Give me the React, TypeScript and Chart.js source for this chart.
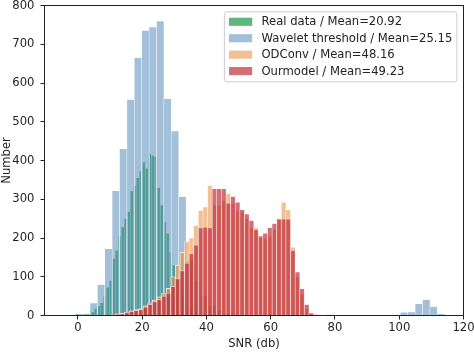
import React, { useEffect, useRef } from "react";
import { Chart, registerables } from "chart.js";

Chart.register(...registerables);

// ---- tick labels ----
const X_TICKS = [0, 20, 40, 60, 80, 100, 120];
const Y_TICKS = [0, 100, 200, 300, 400, 500, 600, 700, 800];

// ---- legend labels ----
const LABELS = [
  "Real data / Mean=20.92",
  "Wavelet threshold / Mean=25.15",
  "ODConv / Mean=48.16",
  "Ourmodel / Mean=49.23",
];

// ---- histogram bins (left edge of first bin, bin width) ----
const REAL_BIN_START = 2.28;
const REAL_BIN_WIDTH = 0.934;
const WAVELET_BIN_START = -0.84;
const WAVELET_BIN_WIDTH = 2.3;
const MODEL_BIN_START = 3.08;
const MODEL_BIN_WIDTH = 1.434;

// ---- counts per bin ----
const realCounts = [
  2, 4, 9, 18, 25, 33, 50, 73, 90, 147, 168, 205, 228, 250, 268, 321, 335, 355,
  372, 396, 380, 417, 413, 410, 330, 285, 241, 212, 163, 130, 95, 70, 50, 35, 25,
  18, 12, 8, 5, 3, 2, 1,
];
const waveletCounts = [
  4, 5, 32, 80, 172, 322, 430, 557, 665, 735, 744, 760, 559, 476, 307, 140, 90,
  50, 25, 12, 5, 2, 1, 0, 0, 0, 0, 0, 0, 0, 0, 0, 0, 0, 2, 0, 0, 0, 0, 0, 0, 0,
  0, 0, 8, 9, 30, 41, 23, 4,
];
const odconvCounts = [
  0, 0, 0, 1, 1, 2, 4, 6, 9, 12, 15, 17, 25, 33, 40, 48, 58, 70, 100, 130, 163,
  190, 200, 232, 271, 280, 335, 284, 284, 297, 314, 288, 271, 267, 250, 226, 226,
  200, 198, 205, 222, 250, 292, 273, 176, 100, 55, 18, 3, 1,
];
const ourmodelCounts = [
  0, 0, 0, 0, 1, 2, 3, 5, 8, 11, 13, 15, 22, 29, 35, 41, 50, 58, 75, 95, 115, 135,
  160, 182, 226, 228, 226, 327, 327, 327, 290, 307, 292, 273, 262, 245, 222, 205,
  212, 226, 237, 249, 249, 249, 168, 112, 69, 28, 6, 2,
];

const COLORS = [
  "rgba(40,160,80,0.75)",
  "rgba(70,130,180,0.5)",
  "rgba(230,140,60,0.55)",
  "rgba(190,30,45,0.65)",
];

const FONT = "DejaVu Sans";
const FS = 11.6;
const TEXT = "#222222";

function toBins(start: number, width: number, counts: number[]) {
  return counts.map((c, i) => ({ x: start + width * (i + 0.5), y: c }));
}

const X_MIN = -10.4;
const X_MAX = 120;

const framePlugin = {
  id: "frame",
  afterDatasetsDraw(chart: any) {
    const { ctx, chartArea } = chart;
    ctx.save();
    ctx.strokeStyle = TEXT;
    ctx.lineWidth = 1;
    ctx.strokeRect(
      chartArea.left,
      chartArea.top,
      chartArea.right - chartArea.left,
      chartArea.bottom - chartArea.top
    );
    ctx.restore();
  },
};

const legendPlugin = {
  id: "mplLegend",
  afterDraw(chart: any) {
    const { ctx, chartArea } = chart;
    const items = chart.data.datasets.map((d: any) => ({
      label: d.label,
      color: d.backgroundColor,
    }));
    ctx.save();
    ctx.font = `${FS}px "${FONT}"`;
    const maxW = Math.max(...items.map((i: any) => ctx.measureText(i.label).width));
    const right = chartArea.right - 6.6;
    const top = chartArea.top + 6.3;
    const textX = right - 0.4 * FS - maxW;
    const patchX = textX - 0.8 * FS - 2 * FS;
    const left = patchX - 0.4 * FS;
    const height = 70;
    const rowGap = 16.43;

    ctx.beginPath();
    ctx.roundRect(left, top, right - left, height, 2.5);
    ctx.fillStyle = "rgba(255,255,255,0.8)";
    ctx.fill();
    ctx.strokeStyle = "#cccccc";
    ctx.lineWidth = 1;
    ctx.stroke();

    items.forEach((it: any, i: number) => {
      const cy = top + 10 + i * rowGap;
      ctx.fillStyle = it.color;
      ctx.fillRect(patchX, cy - 0.35 * FS, 2 * FS, 0.7 * FS);
      ctx.fillStyle = TEXT;
      ctx.textBaseline = "middle";
      ctx.textAlign = "left";
      ctx.fillText(it.label, textX, cy + 0.5);
    });
    ctx.restore();
  },
};

export default function App() {
  const ref = useRef<HTMLCanvasElement | null>(null);

  useEffect(() => {
    document.body.style.margin = "0";
    if (!ref.current) return;
    Chart.defaults.font.family = FONT;
    Chart.defaults.color = TEXT;

    const barCommon = {
      borderColor: "#ffffff",
      borderWidth: { left: 0.5, right: 0.5, top: 0.5, bottom: 0 },
      barPercentage: 1,
      categoryPercentage: 1,
      grouped: false,
    };

    const hiddenX = {
      type: "linear",
      min: X_MIN,
      max: X_MAX,
      display: false,
      offset: false,
      grid: { offset: false },
    };

    const tickGrid = {
      display: true,
      drawOnChartArea: false,
      drawTicks: true,
      tickLength: 4,
      color: TEXT,
      lineWidth: 1,
      offset: false,
    };

    const chart = new Chart(ref.current, {
      type: "bar",
      data: {
        datasets: [
          {
            ...barCommon,
            label: LABELS[0],
            data: toBins(REAL_BIN_START, REAL_BIN_WIDTH, realCounts),
            backgroundColor: COLORS[0],
            xAxisID: "xReal",
            order: 4,
          },
          {
            ...barCommon,
            label: LABELS[1],
            data: toBins(WAVELET_BIN_START, WAVELET_BIN_WIDTH, waveletCounts),
            backgroundColor: COLORS[1],
            xAxisID: "xWavelet",
            order: 3,
          },
          {
            ...barCommon,
            label: LABELS[2],
            data: toBins(MODEL_BIN_START, MODEL_BIN_WIDTH, odconvCounts),
            backgroundColor: COLORS[2],
            xAxisID: "xModel",
            order: 2,
          },
          {
            ...barCommon,
            label: LABELS[3],
            data: toBins(MODEL_BIN_START, MODEL_BIN_WIDTH, ourmodelCounts),
            backgroundColor: COLORS[3],
            xAxisID: "xModel",
            order: 1,
          },
        ] as any,
      },
      options: {
        animation: false,
        responsive: true,
        maintainAspectRatio: false,
        devicePixelRatio: 1,
        layout: { padding: { top: 5.5, right: 10.5, left: 0, bottom: 0 } },
        plugins: {
          legend: { display: false },
          tooltip: { enabled: false },
        },
        scales: {
          x: {
            type: "linear",
            position: "bottom",
            min: X_MIN,
            max: X_MAX,
            offset: false,
            afterBuildTicks: (s: any) => {
              s.ticks = X_TICKS.map((v) => ({ value: v }));
            },
            afterFit: (s: any) => {
              s.height = 36.5;
              s.paddingLeft = 0;
              s.paddingRight = 0;
            },
            grid: tickGrid,
            border: { display: false },
            ticks: {
              padding: 2,
              color: TEXT,
              font: { family: FONT, size: FS },
              maxRotation: 0,
              autoSkip: false,
            },
            title: {
              display: true,
              text: "SNR (db)",
              color: TEXT,
              font: { family: FONT, size: FS },
              padding: { top: 0, bottom: 1 },
            },
          },
          xReal: hiddenX,
          xWavelet: hiddenX,
          xModel: hiddenX,
          y: {
            type: "linear",
            min: 0,
            max: 800,
            afterBuildTicks: (s: any) => {
              s.ticks = Y_TICKS.map((v) => ({ value: v }));
            },
            afterFit: (s: any) => {
              s.width = 44.5;
              s.paddingTop = 0;
              s.paddingBottom = 0;
            },
            grid: tickGrid,
            border: { display: false },
            ticks: {
              padding: 6,
              color: TEXT,
              font: { family: FONT, size: FS },
              autoSkip: false,
            },
            title: {
              display: true,
              text: "Number",
              color: TEXT,
              font: { family: FONT, size: FS },
              padding: 0,
            },
          },
        } as any,
      },
      plugins: [framePlugin, legendPlugin],
    });

    return () => chart.destroy();
  }, []);

  return (
    <div style={{ width: 474, height: 352, position: "relative" }}>
      <canvas ref={ref} />
    </div>
  );
}
